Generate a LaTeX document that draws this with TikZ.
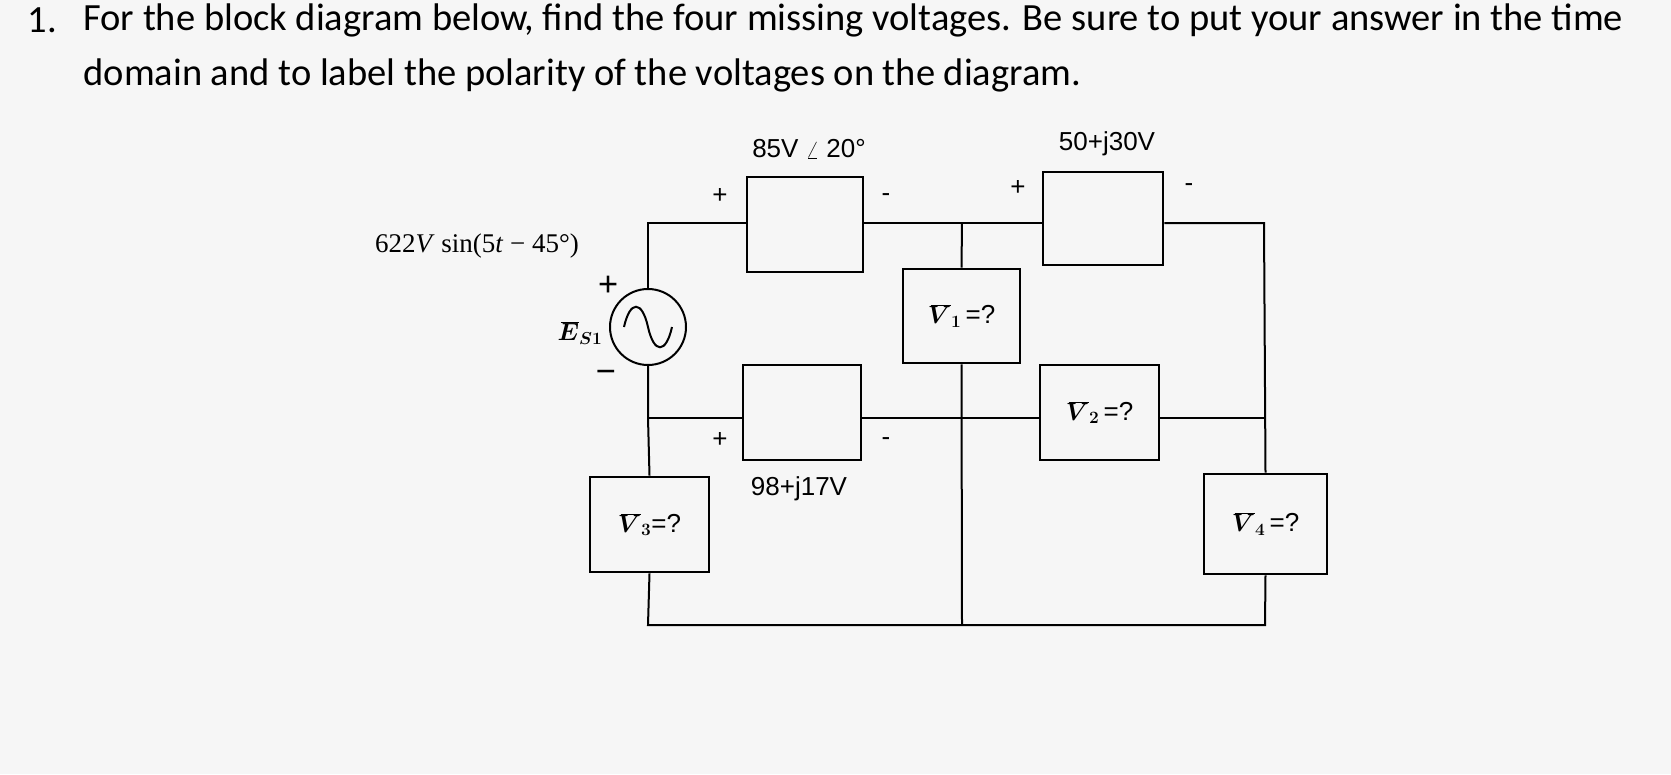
\documentclass[tikz,border=0pt]{standalone}
\usepackage{fontspec}
\setmainfont{Carlito}
\newfontfamily\arialf{Liberation Sans}
\newfontfamily\serf{Liberation Serif}
\newcommand{\ovb}[1]{\ensuremath{\mkern2mu\overline{\mkern-2mu #1}}}
\begin{document}
\begin{tikzpicture}[x=1pt,y=-1pt,
  blk/.style={draw,line width=2.6pt,inner sep=0pt},
  wire/.style={line width=2pt},
  lbl/.style={font=\arialf\fontsize{26}{28}\selectfont},
  sgn/.style={font=\arialf\fontsize{26}{28}\selectfont},
  mth/.style={font=\arialf\fontsize{26}{28}\selectfont\boldmath}]
\fill[gray!7] (0,0) rectangle (1671,774);
\useasboundingbox (0,0) rectangle (1671,774);
\node[anchor=west,font=\fontsize{38.5}{40}\selectfont] (n1) at (24,20) {1.};
\node[anchor=west,font=\fontsize{38.5}{40}\selectfont] (t1) at (80,20) {For the block diagram below, find the four missing voltages. Be sure to put your answer in the time};
\node[anchor=west,font=\fontsize{38.5}{40}\selectfont] (t2) at (80,75) {domain and to label the polarity of the voltages on the diagram.};
% boxes
\node[blk,minimum width=116pt,minimum height=95pt] (b1) at (805,224.5) {};
\node[blk,minimum width=120pt,minimum height=93pt] (b2) at (1103,218.5) {};
\node[blk,minimum width=117pt,minimum height=94pt,mth] (v1) at (961.5,316) {$\ovb{V}_1$\,=?};
\node[blk,minimum width=118pt,minimum height=95pt] (b3) at (802,412.5) {};
\node[blk,minimum width=119pt,minimum height=95pt,mth] (v2) at (1099.5,412.5) {$\ovb{V}_2$\,=?};
\node[blk,minimum width=119pt,minimum height=95pt,mth] (v3) at (649.5,524.5) {$\ovb{V}_3$=?};
\node[blk,minimum width=123pt,minimum height=100pt,mth] (v4) at (1265.5,524) {$\ovb{V}_4$\,=?};
\node[draw,circle,line width=2pt,minimum size=76pt,inner sep=0pt] (src) at (648,327) {};
\draw[line width=2pt] (624,327) .. controls (630,300) and (642,300) .. (648,327) .. controls (654,354) and (666,354) .. (672,327);
% coordinates
\coordinate (tl) at (648,223);
\coordinate (j1) at (962,223);
\coordinate (tr) at (1264,223);
\coordinate (ml) at (648,418);
\coordinate (j2) at (962,418);
\coordinate (mr) at (1264,418);
\coordinate (bl) at (648,625);
\coordinate (bm) at (962,625);
\coordinate (br) at (1265,625);
% wires
\draw[wire] (src.north) -- (tl) -- (b1.west |- tl);
\draw[wire] (b1.east |- j1) -- (b2.west |- j1);
\draw[wire] (j1) -- (v1.north);
\draw[wire] (b2.east |- tr) -- (tr) -- (v4.north);
\draw[wire] (src.south) -- (ml) -- (v3.north);
\draw[wire] (ml) -- (b3.west |- ml);
\draw[wire] (b3.east |- j2) -- (v2.west |- j2);
\draw[wire] (v1.south) -- (bm);
\draw[wire] (v2.east |- mr) -- (mr);
\draw[wire] (v3.south) -- (bl) -- (br) -- (v4.south);
% labels
\node[lbl] (l1) at (809,149) {85V $\angle$ 20°};
\node[lbl] (l2) at (1107,144) {50+j30V};
\node[lbl] (l3) at (799,489) {98+j17V};
\node[font=\serf\fontsize{27}{28}\selectfont] (l4) at (477,246) {622\textit{V} sin(5\textit{t} − 45°)};
\node[font=\serf\bfseries\fontsize{36}{36}\selectfont] (sp) at (608,286) {+};
\node[font=\serf\bfseries\fontsize{36}{36}\selectfont] (sm) at (606,377) {−};
\node[font=\fontsize{27}{28}\selectfont\boldmath] (es) at (580,333) {$\ovb{E}_{S1}$};
\node[sgn] (p1) at (720,196) {+};
\node[sgn] (m1) at (886,198) {-};
\node[sgn] (p2) at (1018,188) {+};
\node[sgn] (m2) at (1189,188) {-};
\node[sgn] (p3) at (720,440) {+};
\node[sgn] (m3) at (886,442) {-};
\end{tikzpicture}
\end{document}
